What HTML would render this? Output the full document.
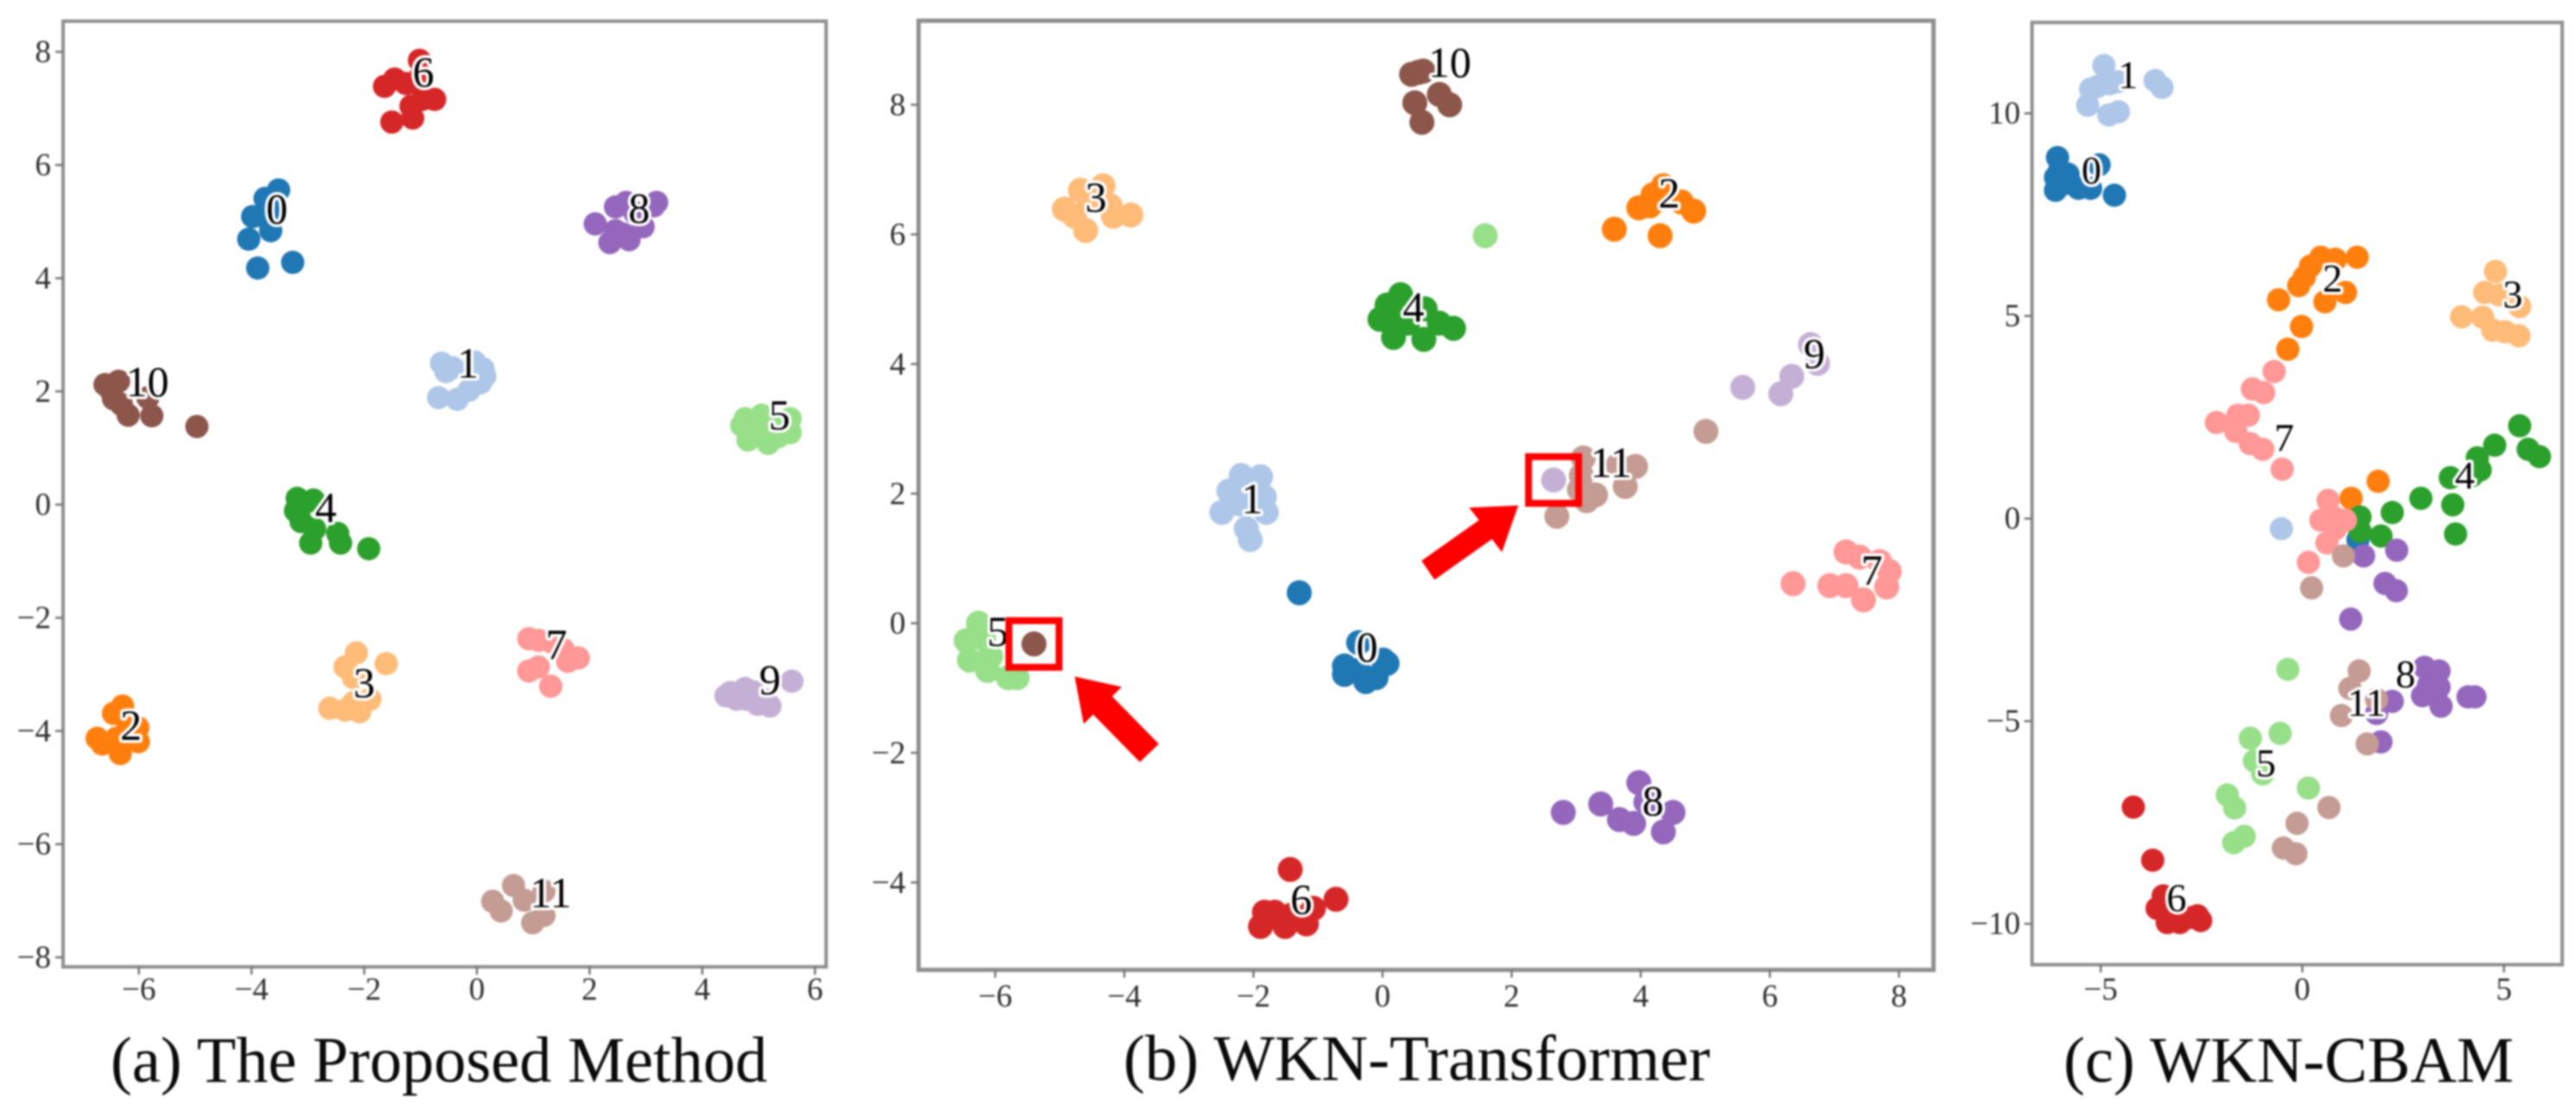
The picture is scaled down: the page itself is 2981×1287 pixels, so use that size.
<!DOCTYPE html>
<html lang="en">
<head>
<meta charset="utf-8">
<title>t-SNE cluster comparison</title>
<style>
html,body{margin:0;padding:0;background:#fff;width:2981px;height:1287px;overflow:hidden}
svg{display:block;filter:blur(1.1px)}
text{font-family:"Liberation Serif",serif}
.tick{font-size:37px;fill:#2e2e2e}
.title{font-size:75px;fill:#0a0a0a}
.cl{fill:#000;stroke:#fff;stroke-width:7px;paint-order:stroke;stroke-linejoin:round;text-anchor:middle}
</style>
</head>
<body>
<svg id="figure" xmlns="http://www.w3.org/2000/svg" width="2981" height="1287" viewBox="0 0 2981 1287">
  <rect x="0" y="0" width="2981" height="1287" fill="#fff"/>
  <g id="panel-a"></g>
  <g id="panel-b"></g>
  <g id="panel-c"></g>
  <polygon fill="#fe0000" points="1243.6,783 1298,795 1287,806 1341,861 1319,882 1265,827 1254,838"/>
  <polygon fill="#fe0000" points="1757,585 1700,587.5 1711.5,602 1645,649 1660,671 1726.5,624 1738,639"/>
  <text class="title" x="128" y="1252" textLength="760" lengthAdjust="spacingAndGlyphs">(a) The Proposed Method</text>
  <text class="title" x="1300" y="1250" textLength="679" lengthAdjust="spacingAndGlyphs">(b) WKN-Transformer</text>
  <text class="title" x="2388" y="1252" textLength="521" lengthAdjust="spacingAndGlyphs">(c) WKN-CBAM</text>
</svg>
<script>
// class colours (tab20 order), index = class id
const classColors = ['#1f77b4','#aec7e8','#ff7f0e','#ffbb78','#2ca02c','#98df8a','#d62728','#ff9896','#9467bd','#c5b0d5','#8c564b','#c49c94'];

// ---- Panel (a) ----
const aXTicks = [-6,-4,-2,0,2,4,6];
const aYTicks = [-8,-6,-4,-2,0,2,4,6,8];
const aClass0 = [[-3.52,5.56],[-3.76,5.41],[-3.98,5.09],[-3.66,4.84],[-4.05,4.69],[-3.89,4.18],[-3.27,4.28],[-3.78,5.09],[-3.57,5.16]];
const aClass1 = [[-0.63,2.50],[-0.43,2.42],[-0.68,1.89],[-0.35,1.86],[0.06,2.15],[0.11,2.40],[0.14,2.27],[-0.14,2.02],[-0.55,2.35],[-0.04,2.52]];
const aClass2 = [[-6.29,-3.56],[-6.45,-3.69],[-6.02,-3.94],[-6.74,-4.13],[-6.65,-4.23],[-6.33,-4.40],[-6.01,-4.19],[-6.40,-4.13],[-6.20,-3.95]];
const aClass3 = [[-2.14,-2.62],[-2.34,-2.87],[-1.61,-2.81],[-2.19,-3.06],[-1.90,-3.44],[-2.61,-3.60],[-2.34,-3.63],[-2.08,-3.66],[-2.19,-3.50]];
const aClass4 = [[-3.19,0.11],[-2.90,0.08],[-3.22,-0.11],[-3.12,-0.30],[-2.88,-0.43],[-2.95,-0.68],[-2.47,-0.51],[-2.42,-0.68],[-1.92,-0.78],[-3.08,0.01]];
const aClass5 = [[4.76,1.52],[5.05,1.58],[5.56,1.52],[5.56,1.27],[4.81,1.14],[5.17,1.08],[5.35,1.20],[4.96,1.33],[5.25,1.39],[4.70,1.40]];
const aClass6 = [[-1.02,7.85],[-1.46,7.52],[-1.64,7.39],[-1.26,7.44],[-0.75,7.16],[-0.97,7.16],[-1.17,7.04],[-1.14,6.83],[-1.51,6.76],[-1.02,7.54]];
const aClass7 = [[0.92,-2.37],[1.33,-2.43],[1.80,-2.71],[1.61,-2.77],[0.92,-2.94],[1.09,-2.87],[1.31,-3.21],[1.53,-2.56],[1.10,-2.40]];
const aClass8 = [[2.10,4.96],[2.36,4.63],[2.70,4.68],[2.46,4.84],[2.95,4.91],[2.46,5.26],[2.80,5.16],[3.14,5.28],[2.65,5.34],[3.19,5.34],[2.60,4.78]];
const aClass9 = [[4.42,-3.38],[4.61,-3.44],[4.76,-3.25],[4.91,-3.31],[5.20,-3.56],[5.59,-3.12],[5.10,-3.44],[4.50,-3.32],[4.78,-3.44],[4.98,-3.53]];
const aClass10 = [[-6.60,2.12],[-6.36,2.18],[-6.50,2.02],[-6.45,1.87],[-6.31,1.77],[-6.19,1.58],[-5.77,1.57],[-5.84,1.89],[-4.97,1.38]];
const aClass11 = [[0.65,-6.73],[0.28,-7.01],[0.43,-7.18],[0.84,-6.99],[0.99,-7.39],[1.19,-7.26],[1.19,-6.83]];
const aLabelText = ['0','1','2','3','4','5','6','7','8','9','10','11'];
const aLabelX = [-3.55,-0.16,-6.14,-2.00,-2.68,5.37,-0.95,1.41,2.88,5.20,-5.85,1.31];
const aLabelY = [5.22,2.50,-3.90,-3.15,-0.05,1.58,7.64,-2.47,5.24,-3.10,2.17,-6.86];

// ---- Panel (b) ----
const bXTicks = [-6,-4,-2,0,2,4,6,8];
const bYTicks = [-4,-2,0,2,4,6,8];
const bClass0 = [[-0.37,-0.30],[-0.59,-0.66],[-0.26,-0.90],[0.01,-0.57],[-0.10,-0.84],[-0.37,-0.73],[-0.59,-0.79],[0.07,-0.62],[-1.29,0.47]];
const bClass1 = [[-2.19,2.28],[-1.89,2.26],[-2.38,2.04],[-2.49,1.71],[-1.80,1.71],[-2.11,1.46],[-2.05,1.29],[-2.00,1.95],[-2.21,1.84],[-1.83,1.95]];
const bClass2 = [[3.59,6.08],[4.30,5.98],[4.82,6.36],[3.97,6.41],[4.19,6.61],[4.35,6.75],[4.63,6.50],[4.14,6.44]];
const bClass3 = [[-4.93,6.39],[-4.68,6.68],[-4.33,6.75],[-4.60,6.06],[-4.77,6.28],[-4.17,6.28],[-3.90,6.30],[-4.55,6.50],[-4.22,6.44]];
const bClass4 = [[-0.04,4.69],[0.28,5.07],[0.07,4.91],[0.17,4.41],[0.64,4.38],[1.10,4.55],[0.88,4.63],[0.17,4.74],[0.66,4.85],[0.39,4.63]];
const bClass5 = [[-6.26,0.00],[-6.45,-0.27],[-6.40,-0.57],[-6.12,-0.73],[-5.80,-0.84],[-5.66,-0.84],[-6.18,-0.24],[-6.07,-0.51],[1.59,5.98]];
const bClass6 = [[-1.43,-3.80],[-0.72,-4.26],[-1.83,-4.46],[-1.89,-4.68],[-1.51,-4.68],[-1.18,-4.64],[-1.07,-4.40],[-1.67,-4.46],[-1.40,-4.50]];
const bClass7 = [[7.18,1.10],[6.36,0.61],[6.93,0.58],[7.18,0.58],[7.45,0.36],[7.81,0.56],[7.85,0.80],[7.39,1.02],[7.70,0.95]];
const bClass8 = [[3.97,-2.46],[2.80,-2.92],[3.38,-2.79],[3.67,-3.03],[3.89,-3.09],[4.08,-2.76],[4.50,-2.92],[4.35,-3.22]];
const bClass9 = [[6.63,4.30],[6.74,4.01],[6.34,3.81],[6.17,3.54],[5.58,3.64],[2.65,2.21]];
const bClass10 = [[0.55,8.50],[0.63,8.52],[0.50,8.03],[0.88,8.16],[1.04,8.00],[0.61,7.73],[0.45,8.47],[-5.40,-0.32]];
const bClass11 = [[5.01,2.96],[3.11,2.55],[3.92,2.42],[3.76,2.11],[3.16,1.89],[2.70,1.65],[3.08,2.28],[3.05,2.06],[3.65,2.44],[3.30,1.98]];
const bLabelText = ['0','1','2','3','4','5','6','7','8','9','10','11'];
const bLabelX = [-0.24,-2.02,4.44,-4.44,0.48,-5.96,-1.26,7.58,4.19,6.69,1.04,3.54];
const bLabelY = [-0.37,1.92,6.64,6.57,4.88,-0.13,-4.26,0.82,-2.74,4.16,8.65,2.48];
const bHighlighted = [[-5.40,-0.32],[2.65,2.21]];

// ---- Panel (c) ----
const cXTicks = [-5,0,5];
const cYTicks = [-10,-5,0,5,10];
const cClass0 = [[-6.07,8.91],[-6.12,8.10],[-5.86,8.27],[-5.25,8.15],[-5.04,8.73],[-4.66,7.98],[-5.55,8.15],[-6.02,8.59],[-5.81,8.50],[-6.12,8.42],[1.38,-0.52]];
const cClass1 = [[-4.92,11.18],[-5.25,10.60],[-5.32,10.20],[-4.78,10.73],[-4.58,10.78],[-4.80,9.96],[-4.56,10.04],[-3.65,10.81],[-3.48,10.64],[-5.09,10.66],[-0.52,-0.25]];
const cClass2 = [[1.36,6.45],[0.46,6.45],[0.82,6.40],[0.20,6.23],[0.05,5.96],[-0.09,5.75],[-0.59,5.40],[0.56,5.35],[1.07,5.58],[-0.02,4.74],[-0.36,4.18],[1.21,0.50],[1.88,0.92]];
const cClass3 = [[4.79,6.10],[4.52,5.58],[3.95,4.98],[4.47,4.97],[5.39,5.23],[4.72,4.65],[5.03,4.61],[5.37,4.51],[4.88,5.52]];
const cClass4 = [[5.39,2.29],[4.77,1.81],[5.60,1.71],[5.88,1.53],[4.34,1.50],[4.41,1.20],[3.67,1.01],[2.94,0.50],[3.73,0.34],[3.80,-0.38],[2.23,0.15],[1.95,-0.43],[1.43,-0.31],[1.43,0.04],[4.21,1.06]];
const cClass5 = [[-0.36,-3.72],[-0.55,-5.30],[-1.29,-5.42],[-1.19,-5.98],[-0.98,-6.30],[-1.86,-6.82],[-1.68,-7.14],[0.15,-6.65],[-1.70,-8.00],[-1.44,-7.84]];
const cClass6 = [[-4.19,-7.12],[-3.71,-8.43],[-3.45,-9.31],[-3.60,-9.62],[-3.35,-9.97],[-3.04,-9.97],[-2.83,-9.85],[-2.52,-9.92],[-2.60,-9.80]];
const cClass7 = [[-0.70,3.63],[-1.24,3.20],[-0.96,3.11],[-2.13,2.37],[-1.60,2.55],[-1.34,2.55],[-1.65,2.15],[-1.29,1.85],[-0.98,1.71],[-0.50,1.22],[0.64,0.45],[0.46,-0.04],[0.82,0.01],[1.07,-0.04],[0.61,-0.60],[0.82,-0.25],[0.15,-1.08]];
const cClass8 = [[3.03,-3.67],[3.39,-3.76],[3.13,-4.11],[3.39,-4.16],[2.98,-4.37],[3.44,-4.63],[4.28,-4.40],[4.11,-4.40],[2.23,-4.51],[1.95,-5.51],[1.84,-4.81],[2.34,-0.78],[1.52,-0.92],[2.05,-1.60],[2.33,-1.78],[1.20,-2.48]];
const cClass9 = [];
const cClass10 = [];
const cClass11 = [[1.02,-0.92],[0.23,-1.71],[1.41,-3.76],[1.18,-4.19],[0.97,-4.86],[1.61,-5.56],[0.66,-7.13],[-0.13,-7.52],[-0.47,-8.13],[-0.16,-8.27],[1.84,-4.46]];
const cLabelText = ['0','1','2','3','4','5','6','7','8','11'];
const cLabelX = [-5.23,-4.32,0.75,5.22,4.03,-0.90,-3.12,-0.45,2.56,1.59];
const cLabelY = [8.59,10.95,5.93,5.53,1.06,-6.04,-9.36,1.99,-3.84,-4.54];

const SVG_NS = 'http://www.w3.org/2000/svg';

function make(tag, parent, props) {
  const el = document.createElementNS(SVG_NS, tag);
  for (const k in props) el.setAttribute(k, props[k]);
  parent.appendChild(el);
  return el;
}

function drawPanel(o) {
  const g = document.getElementById(o.id);
  const sx = v => o.x0 + v * o.ux;
  const sy = v => o.y0 - v * o.uy;

  o.series.forEach((pts, cls) => {
    const sg = make('g', g, {});
    
    
    pts.forEach(p => {
      const c = make('circle', sg, { cx: sx(p[0]), cy: sy(p[1]), r: o.r, fill: classColors[cls] });
      
      
    });
  });

  const frame = make('rect', g, {
    x: o.left, y: o.top, width: o.right - o.left, height: o.bottom - o.top,
    fill: 'none', stroke: '#8f8f8f', 'stroke-width': o.frameWidth
  });
  
  

  o.xTicks.forEach(v => {
    const t = make('line', g, { x1: sx(v), x2: sx(v), y1: o.bottom, y2: o.bottom + 9, stroke: '#777', 'stroke-width': 2.5 });
    
    
    const l = make('text', g, { x: sx(v), y: o.xLabelY, 'text-anchor': 'middle', class: 'tick' });
    
    
    l.textContent = String(v).replace('-', '\u2212');
  });

  o.yTicks.forEach(v => {
    const t = make('line', g, { x1: o.left - 9, x2: o.left, y1: sy(v), y2: sy(v), stroke: '#777', 'stroke-width': 2.5 });
    
    
    const l = make('text', g, { x: o.yLabelX, y: sy(v) + 12, 'text-anchor': 'end', class: 'tick' });
    
    
    l.textContent = String(v).replace('-', '\u2212');
  });

  o.labelText.forEach((txt, i) => {
    const l = make('text', g, { x: sx(o.labelX[i]), y: sy(o.labelY[i]) + o.labelSize * 0.33, class: 'cl', 'font-size': o.labelSize });
    
    
    l.textContent = txt;
  });

  (o.highlights || []).forEach(p => {
    const b = make('rect', g, { x: sx(p[0]) - 29, y: sy(p[1]) - 27, width: 58, height: 54, fill: 'none', stroke: '#fe0000', 'stroke-width': 8 });
    
    
  });
}

drawPanel({
  id: 'panel-a', left: 73, right: 956, top: 24.5, bottom: 1119,
  x0: 551.9, ux: 65.2, y0: 584, uy: 65.5, r: 13.5, frameWidth: 4,
  xLabelY: 1157, yLabelX: 59, labelSize: 50,
  xTicks: aXTicks, yTicks: aYTicks,
  series: [aClass0,aClass1,aClass2,aClass3,aClass4,aClass5,aClass6,aClass7,aClass8,aClass9,aClass10,aClass11],
  labelText: aLabelText, labelX: aLabelX, labelY: aLabelY
});

drawPanel({
  id: 'panel-b', left: 1063, right: 2237.5, top: 24, bottom: 1122.5,
  x0: 1599.9, ux: 74.7, y0: 721.3, uy: 75, r: 14.5, frameWidth: 5,
  xLabelY: 1165, yLabelX: 1048, labelSize: 50,
  xTicks: bXTicks, yTicks: bYTicks,
  series: [bClass0,bClass1,bClass2,bClass3,bClass4,bClass5,bClass6,bClass7,bClass8,bClass9,bClass10,bClass11],
  labelText: bLabelText, labelX: bLabelX, labelY: bLabelY,
  highlights: bHighlighted
});

drawPanel({
  id: 'panel-c', left: 2351.5, right: 2965, top: 26, bottom: 1116.5,
  x0: 2664.3, ux: 46.67, y0: 600.2, uy: 46.9, r: 13.5, frameWidth: 4,
  xLabelY: 1157, yLabelX: 2338, labelSize: 46,
  xTicks: cXTicks, yTicks: cYTicks,
  series: [cClass0,cClass1,cClass2,cClass3,cClass4,cClass5,cClass6,cClass7,cClass8,cClass9,cClass10,cClass11],
  labelText: cLabelText, labelX: cLabelX, labelY: cLabelY
});
</script>
</body>
</html>
